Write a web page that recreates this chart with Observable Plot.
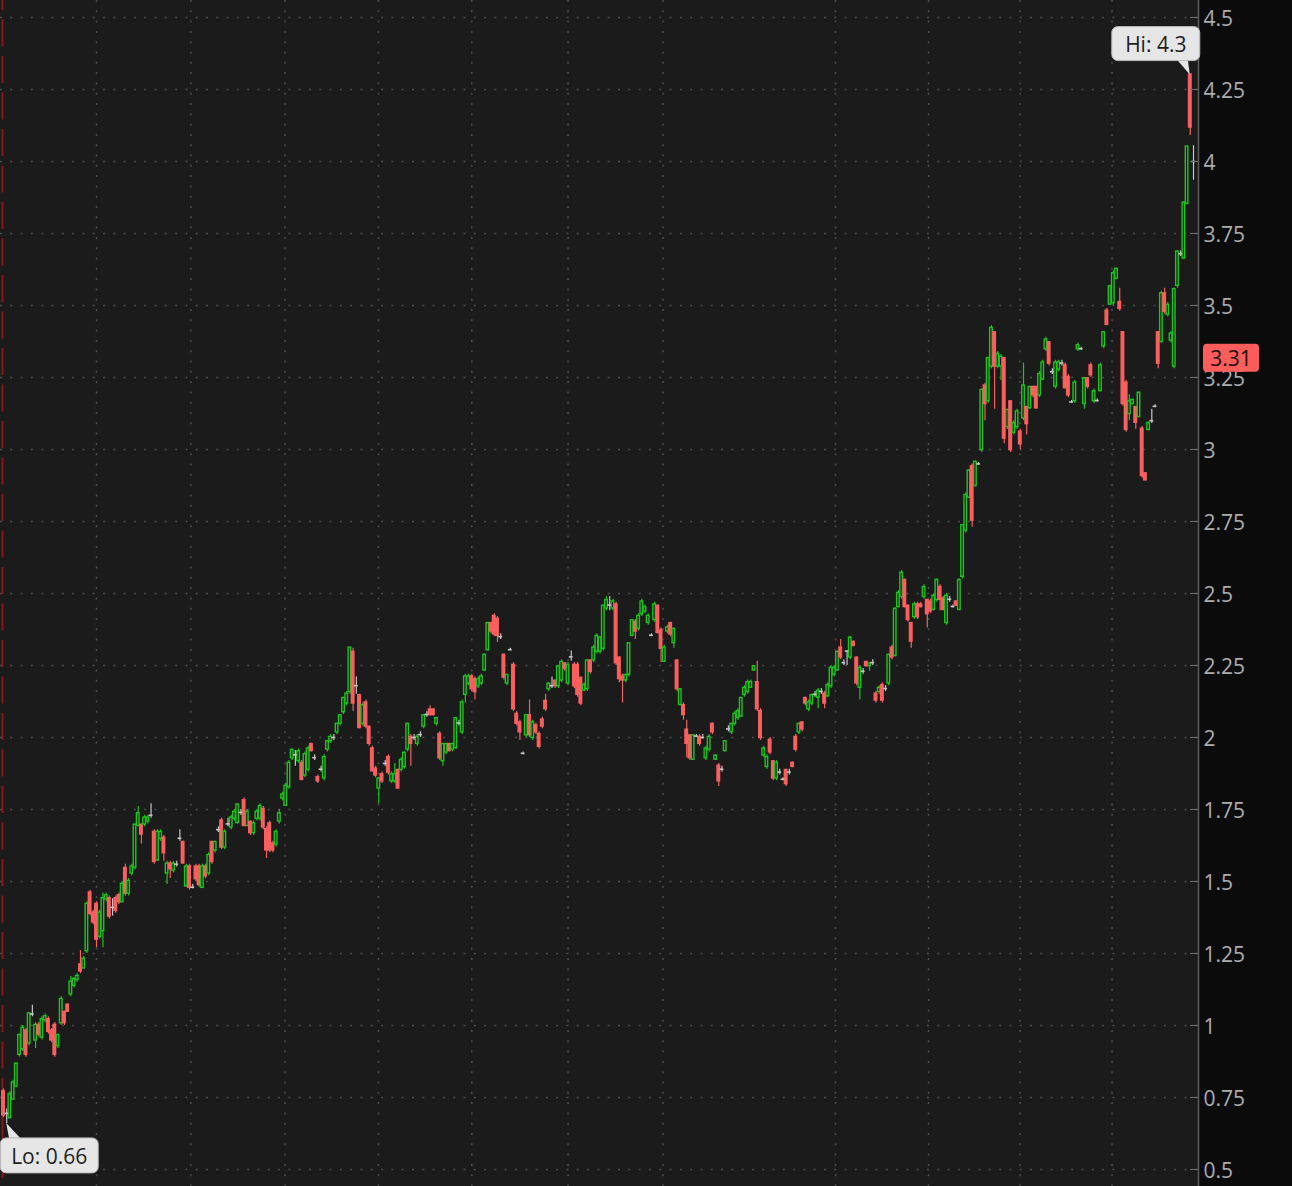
<!DOCTYPE html>
<html><head><meta charset="utf-8">
<script src="https://cdn.jsdelivr.net/npm/d3@7"></script>
<script src="https://cdn.jsdelivr.net/npm/@observablehq/plot@0.6"></script>
<style>
html,body{margin:0;padding:0;background:#0b0b0b;}
#chart svg{display:block;}
</style></head><body><div id="chart"></div>
<script>
// Each candle: [open, close, high, low]
const seg1 = [
[0.77,0.69,0.78,0.68],[0.695,0.695,0.71,0.66],[0.68,0.76,0.77,0.68],[0.745,0.80,0.81,0.74],
[0.79,0.865,0.87,0.79],[0.90,0.965,0.97,0.89],[0.92,0.99,1.00,0.91],[0.98,0.90,0.99,0.89],
[0.94,1.04,1.04,0.93],[1.04,1.04,1.07,1.03],[0.95,1.00,1.01,0.92],[1.00,0.97,1.01,0.96],
[0.96,1.02,1.03,0.95],[1.02,1.03,1.04,1.01],[1.02,0.98,1.03,0.97],[0.98,0.95,0.99,0.94],
[1.00,0.90,1.01,0.89],[0.93,0.965,0.97,0.92],[1.01,1.09,1.10,1.00],[1.045,1.01,1.05,1.00],
[1.07,1.05,1.075,1.045],[1.11,1.15,1.17,1.10],[1.14,1.16,1.165,1.13],[1.16,1.17,1.18,1.15],
[1.21,1.19,1.26,1.18],[1.20,1.23,1.24,1.20],[1.26,1.42,1.43,1.25],[1.46,1.39,1.47,1.38],
[1.39,1.36,1.40,1.35],[1.42,1.30,1.43,1.27],[1.31,1.39,1.40,1.30],[1.33,1.44,1.46,1.27],
[1.44,1.45,1.46,1.43],[1.44,1.38,1.45,1.37],[1.41,1.41,1.44,1.38]
];
const seg2 = [
[1.44,1.40,1.45,1.39],[1.45,1.43,1.46,1.42],[1.43,1.49,1.50,1.43],[1.545,1.46,1.56,1.45],
[1.46,1.50,1.51,1.45],[1.53,1.55,1.56,1.52],[1.55,1.695,1.70,1.54],[1.695,1.735,1.76,1.69],
[1.695,1.665,1.70,1.63],[1.70,1.72,1.73,1.69],[1.71,1.72,1.73,1.70],[1.73,1.73,1.77,1.72],
[1.67,1.57,1.68,1.56],[1.575,1.67,1.68,1.57],[1.65,1.67,1.68,1.64],[1.65,1.60,1.66,1.57],
[1.53,1.56,1.57,1.49],[1.56,1.545,1.57,1.51],[1.54,1.56,1.57,1.53],[1.56,1.56,1.57,1.55],
[1.65,1.65,1.68,1.64],[1.635,1.565,1.64,1.56],[1.485,1.55,1.56,1.48],[1.55,1.48,1.56,1.47]
];
const seg3 = [
[1.48,1.48,1.49,1.475],[1.55,1.51,1.56,1.50],[1.55,1.49,1.56,1.48],[1.48,1.55,1.56,1.48],
[1.55,1.52,1.56,1.51],[1.53,1.59,1.60,1.52],[1.635,1.57,1.64,1.56],[1.61,1.635,1.64,1.60],
[1.68,1.68,1.69,1.67],[1.71,1.62,1.72,1.61],[1.62,1.67,1.68,1.61],[1.70,1.70,1.72,1.69],
[1.69,1.72,1.73,1.68],[1.72,1.74,1.75,1.71],[1.705,1.765,1.77,1.70],[1.74,1.74,1.75,1.73],
[1.78,1.695,1.79,1.69],[1.695,1.74,1.75,1.69],[1.705,1.67,1.71,1.66],[1.67,1.70,1.71,1.66],
[1.72,1.74,1.75,1.71],[1.72,1.76,1.77,1.71],[1.75,1.69,1.76,1.68],[1.68,1.61,1.69,1.58],
[1.70,1.61,1.71,1.60],[1.63,1.61,1.64,1.60],[1.63,1.67,1.68,1.62],[1.71,1.735,1.75,1.70]
];
const seg4 = [
[1.79,1.80,1.81,1.78],[1.765,1.83,1.84,1.76],[1.83,1.91,1.92,1.82],[1.93,1.955,1.96,1.92],
[1.94,1.94,1.955,1.90],[1.92,1.95,1.96,1.91],[1.91,1.855,1.92,1.85],[1.87,1.94,1.95,1.86],
[1.89,1.96,1.97,1.88],[1.975,1.955,1.98,1.95],[1.93,1.93,1.94,1.92],[1.86,1.85,1.87,1.84],
[1.89,1.89,1.90,1.88],[1.86,1.93,1.94,1.85],[1.96,1.985,1.99,1.95],[1.99,2.00,2.01,1.98],
[2.00,2.00,2.01,1.99],[2.02,2.045,2.05,2.01],[2.05,2.075,2.08,2.04],[2.09,2.135,2.14,2.08],
[2.12,2.15,2.16,2.11],[2.16,2.31,2.31,2.15],[2.295,2.12,2.31,2.09],[2.18,2.18,2.21,2.15],
[2.145,2.035,2.15,2.03],[2.05,2.11,2.12,2.04],[2.12,2.04,2.13,2.03]
];
const seg5 = [
[2.035,1.98,2.04,1.97],[1.96,1.885,1.97,1.88],[1.89,1.87,1.90,1.86],[1.825,1.855,1.86,1.77],
[1.87,1.85,1.88,1.84],[1.91,1.91,1.92,1.90],[1.93,1.88,1.94,1.87],[1.85,1.87,1.88,1.84],
[1.85,1.87,1.91,1.84],[1.885,1.825,1.89,1.82],[1.89,1.92,1.93,1.88],[1.90,1.945,1.95,1.89],
[1.96,2.045,2.05,1.95],[2.00,1.98,2.01,1.90],[2.00,2.00,2.01,1.99],[1.98,2.00,2.01,1.97],
[2.01,2.01,2.02,2.00],[2.04,2.075,2.08,2.03],[2.08,2.08,2.09,2.07],[2.095,2.08,2.11,2.075],
[2.095,2.08,2.10,2.075],[2.05,2.065,2.07,2.04],[2.01,1.93,2.02,1.92],[1.92,1.975,1.98,1.90],
[1.95,1.975,1.98,1.94],[1.975,1.955,1.98,1.95],[1.96,1.975,1.98,1.95],[1.965,2.065,2.07,1.96],
[2.05,2.05,2.06,2.04]
];
const seg6 = [
[2.02,2.12,2.13,2.01],[2.15,2.21,2.22,2.12],[2.19,2.21,2.22,2.18],[2.21,2.17,2.22,2.16],
[2.20,2.16,2.21,2.13],[2.18,2.20,2.21,2.17],[2.19,2.21,2.22,2.18],[2.235,2.285,2.29,2.23],
[2.305,2.395,2.40,2.30],[2.395,2.37,2.40,2.36],[2.42,2.36,2.43,2.35],[2.41,2.355,2.42,2.33],
[2.35,2.35,2.36,2.34],[2.285,2.21,2.29,2.20],[2.19,2.215,2.22,2.18],[2.305,2.305,2.31,2.30],
[2.25,2.10,2.26,2.09],[2.08,2.05,2.09,2.04],[2.05,2.02,2.06,1.99],[1.945,1.945,1.95,1.94],
[2.01,2.075,2.08,2.00],[2.075,2.01,2.13,2.00],[2.00,2.05,2.06,1.99],[2.04,2.02,2.05,2.01],
[2.01,1.97,2.02,1.96],[2.06,2.04,2.07,2.03],[2.125,2.10,2.15,2.09],[2.17,2.185,2.19,2.16],
[2.18,2.18,2.21,2.17],[2.195,2.18,2.20,2.17],[2.18,2.245,2.25,2.17]
];
const seg7 = [
[2.20,2.26,2.27,2.19],[2.255,2.24,2.26,2.23],[2.19,2.25,2.26,2.18],[2.28,2.28,2.30,2.265],
[2.25,2.18,2.26,2.17],[2.25,2.15,2.26,2.14],[2.205,2.12,2.21,2.11],[2.165,2.18,2.19,2.16],
[2.17,2.265,2.27,2.16],[2.265,2.23,2.27,2.22],[2.27,2.31,2.32,2.26],[2.30,2.35,2.36,2.29],
[2.30,2.345,2.35,2.29],[2.31,2.455,2.46,2.30],[2.45,2.475,2.49,2.44],[2.46,2.46,2.49,2.44],
[2.45,2.47,2.48,2.44],[2.46,2.26,2.47,2.25],[2.275,2.205,2.28,2.19],[2.21,2.20,2.22,2.12],
[2.20,2.215,2.22,2.19],[2.22,2.325,2.33,2.21],[2.355,2.405,2.41,2.35],[2.40,2.37,2.41,2.34],
[2.38,2.42,2.43,2.37],[2.43,2.47,2.48,2.42],[2.44,2.45,2.46,2.43],[2.40,2.42,2.43,2.39],
[2.355,2.355,2.36,2.35],[2.41,2.46,2.47,2.40]
];
const seg8 = [
[2.455,2.365,2.46,2.36],[2.37,2.31,2.38,2.26],[2.265,2.31,2.32,2.26],[2.37,2.38,2.39,2.36],
[2.395,2.36,2.40,2.35],[2.33,2.375,2.38,2.31],[2.265,2.17,2.27,2.16],[2.115,2.165,2.17,2.11],
[2.11,2.08,2.12,2.06],[2.025,1.98,2.06,1.93],[2.005,1.93,2.01,1.92],[1.925,2.005,2.01,1.92],
[2.005,2.005,2.01,2.00],[2.00,1.98,2.01,1.97],[2.00,2.00,2.01,1.995],[1.93,1.96,1.97,1.92],
[1.96,2.00,2.01,1.95],[2.045,2.02,2.05,2.01],[1.925,1.935,1.94,1.92],[1.90,1.85,1.91,1.83],
[1.89,1.89,1.90,1.88],[1.955,1.985,1.99,1.95],[2.03,2.03,2.04,2.02],[2.02,2.045,2.05,2.01],
[2.05,2.08,2.09,2.04],[2.07,2.09,2.10,2.06],[2.075,2.135,2.14,2.07],[2.15,2.17,2.18,2.14]
];
const seg9 = [
[2.16,2.19,2.20,2.15],[2.175,2.19,2.20,2.17],[2.235,2.245,2.25,2.23],[2.19,2.10,2.265,2.09],
[2.09,2.00,2.10,1.99],[1.94,1.96,1.97,1.93],[1.90,1.93,1.94,1.89],[1.99,1.95,2.00,1.94],
[1.915,1.86,1.92,1.85],[1.86,1.91,1.92,1.85],[1.88,1.88,1.89,1.87],[1.855,1.855,1.86,1.85],
[1.885,1.84,1.89,1.83],[1.88,1.88,1.89,1.87],[1.91,1.90,1.915,1.895],[2.00,1.96,2.01,1.95],
[2.02,2.045,2.05,2.01],[2.05,2.03,2.055,2.02],[2.135,2.12,2.14,2.11],[2.10,2.12,2.13,2.09],
[2.12,2.145,2.15,2.11],[2.15,2.15,2.16,2.14],[2.14,2.16,2.17,2.10],[2.16,2.16,2.17,2.15],
[2.15,2.12,2.16,2.10],[2.145,2.18,2.19,2.14],[2.18,2.24,2.25,2.17]
];
const seg10 = [
[2.22,2.24,2.25,2.21],[2.235,2.295,2.30,2.23],[2.31,2.28,2.34,2.27],[2.26,2.26,2.27,2.25],
[2.30,2.30,2.30,2.25],[2.28,2.345,2.35,2.27],[2.33,2.32,2.335,2.315],[2.275,2.19,2.28,2.18],
[2.175,2.24,2.25,2.13],[2.23,2.23,2.24,2.22],[2.26,2.25,2.265,2.245],[2.25,2.255,2.26,2.23],
[2.26,2.26,2.27,2.25],[2.15,2.13,2.16,2.12],[2.16,2.17,2.18,2.15],[2.18,2.13,2.19,2.12],
[2.17,2.17,2.18,2.16],[2.19,2.285,2.29,2.18],[2.31,2.28,2.32,2.27],[2.285,2.445,2.45,2.28],
[2.455,2.50,2.51,2.45],[2.49,2.57,2.58,2.48],[2.545,2.455,2.55,2.45],[2.455,2.41,2.46,2.40],
[2.395,2.335,2.40,2.31],[2.42,2.46,2.47,2.41],[2.46,2.42,2.47,2.41],[2.46,2.455,2.47,2.45],
[2.49,2.52,2.53,2.48]
];
const seg11 = [
[2.475,2.43,2.48,2.38],[2.47,2.44,2.48,2.43],[2.445,2.49,2.50,2.44],[2.48,2.545,2.55,2.47],
[2.52,2.48,2.53,2.44],[2.48,2.445,2.49,2.44],[2.40,2.49,2.50,2.39],[2.48,2.48,2.49,2.47],
[2.455,2.455,2.46,2.45],[2.47,2.46,2.475,2.455],[2.445,2.545,2.55,2.44],[2.56,2.735,2.74,2.55],
[2.72,2.84,2.85,2.71],[2.835,2.925,2.93,2.83],[2.94,2.755,2.95,2.73],[2.875,2.955,2.96,2.87],
[2.95,2.95,2.955,2.945],[3.00,3.205,3.21,2.99],[3.22,3.16,3.23,3.10],[3.17,3.315,3.32,3.16],
[3.29,3.42,3.43,3.28],[3.405,3.29,3.41,3.14],[3.29,3.33,3.34,3.28],[3.29,3.32,3.33,3.24],
[3.315,3.04,3.32,3.02],[3.08,3.135,3.14,3.07],[3.165,3.00,3.17,2.99],[3.06,3.09,3.10,3.05],
[3.08,3.13,3.14,3.07]
];
const seg12 = [
[3.06,3.02,3.07,3.00],[3.11,3.22,3.30,3.10],[3.145,3.09,3.15,3.05],[3.145,3.215,3.22,3.14],
[3.215,3.19,3.22,3.18],[3.215,3.145,3.22,3.14],[3.19,3.26,3.27,3.18],[3.245,3.30,3.31,3.24],
[3.35,3.38,3.39,3.34],[3.37,3.30,3.375,3.29],[3.27,3.27,3.28,3.26],[3.22,3.30,3.31,3.21],
[3.28,3.30,3.31,3.27],[3.30,3.30,3.31,3.29],[3.29,3.215,3.30,3.21],[3.25,3.19,3.26,3.18],
[3.165,3.165,3.17,3.16],[3.17,3.23,3.24,3.16],[3.35,3.36,3.37,3.34],[3.35,3.35,3.355,3.345],
[3.16,3.245,3.25,3.14],[3.245,3.22,3.25,3.21],[3.29,3.26,3.30,3.25],[3.17,3.20,3.21,3.16],
[3.17,3.17,3.175,3.165],[3.205,3.29,3.30,3.20],[3.36,3.405,3.41,3.35],[3.48,3.435,3.49,3.43],
[3.505,3.565,3.57,3.50]
];
const seg13 = [
[3.51,3.61,3.62,3.50],[3.595,3.625,3.63,3.59],[3.51,3.49,3.56,3.48],[3.405,3.16,3.41,3.15],
[3.23,3.07,3.24,3.06],[3.125,3.165,3.19,3.10],[3.16,3.17,3.175,3.155],[3.145,3.095,3.15,3.07],
[3.115,3.195,3.20,3.11],[3.07,2.91,3.08,2.90],[2.915,2.895,2.92,2.89],[3.07,3.09,3.095,3.065],
[3.10,3.10,3.14,3.09],[3.15,3.15,3.155,3.145],[3.405,3.30,3.41,3.28],[3.375,3.54,3.55,3.37],
[3.54,3.48,3.56,3.47],[3.47,3.50,3.51,3.46],[3.38,3.40,3.41,3.37],[3.29,3.555,3.56,3.28],
[3.57,3.685,3.69,3.56],[3.68,3.68,3.69,3.67],[3.665,3.855,3.86,3.66],[3.855,4.05,4.05,3.85],
[4.30,4.12,4.30,4.09],[4.00,4.00,4.055,3.935]
];

const yTicks = [0.5,0.75,1,1.25,1.5,1.75,2,2.25,2.5,2.75,3,3.25,3.5,3.75,4,4.25,4.5];
const periodStarts = [29, 58.4, 87.8, 116.9, 146, 176, 205.6, 259.4, 288.4, 316.9, 345.6];
const markerIndex = [0];
const lastPrice = 3.31;

const W = 1292, H = 1186, axisX = 1198, mTop = 17, mBottom = 17;
const BG = "#1b1b1b", GREEN = "#1cc61c", RED = "#fa5f5f", GRAY = "#c4c4c4";

const candles = [seg1,seg2,seg3,seg4,seg5,seg6,seg7,seg8,seg9,seg10,seg11,seg12,seg13]
  .flat().map((d, i) => ({i, open: d[0], close: d[1], high: d[2], low: d[3]}));
candles.forEach(d => { d.dir = d.close > d.open ? "up" : d.close < d.open ? "down" : "flat"; });
const N = candles.length;
const step = (axisX - 5 - 3) / (N - 1);
const xDomain = [-3 / step, (axisX - 3) / step];
const colorOf = {up: GREEN, down: RED, flat: GRAY};

const plot = Plot.plot({
  width: W, height: H,
  marginLeft: 0, marginRight: W - axisX, marginTop: mTop, marginBottom: mBottom,
  x: {type: "linear", domain: xDomain, axis: null},
  y: {domain: [0.5, 4.5], axis: null},
  color: {type: "identity"},
  style: {
    background: `linear-gradient(to right, ${BG} ${axisX}px, #0b0b0b ${axisX}px)`,
    fontFamily: "'Open Sans', sans-serif", fontSize: "21px", color: "#adadad", overflow: "visible"
  },
  marks: [
    Plot.ruleY(yTicks, {stroke: "#4e4e4e", strokeWidth: 1.5, strokeDasharray: "2 8.3"}),
    Plot.ruleX(periodStarts, {stroke: "#4e4e4e", strokeWidth: 1.5, strokeDasharray: "2 8.3", insetTop: -mTop, insetBottom: -mBottom}),
    Plot.ruleX(markerIndex, {stroke: "#8c1515", strokeWidth: 2, strokeDasharray: "27 9.5", strokeDashoffset: 17, dx: -1, insetTop: -mTop, insetBottom: -mBottom}),
    Plot.ruleX(candles, {x: "i", y1: "low", y2: "high", stroke: d => colorOf[d.dir], strokeWidth: 1.2}),
    Plot.rect(candles.filter(d => d.dir !== "flat"), {
      x1: d => d.i - 0.4, x2: d => d.i + 0.4, y1: "open", y2: "close",
      fill: d => d.dir === "down" ? RED : BG, stroke: d => colorOf[d.dir], strokeWidth: 1.4,
      insetTop: -0.6, insetBottom: -0.6
    }),
    Plot.ruleY(candles.filter(d => d.dir === "flat"), {y: "open", x1: d => d.i - 0.6, x2: d => d.i + 0.6, stroke: GRAY, strokeWidth: 1.6}),
    Plot.ruleX([xDomain[1]], {stroke: "#5c5c5c", strokeWidth: 1.5, insetTop: -mTop, insetBottom: -mBottom}),
    Plot.tickY(yTicks, {stroke: "#6e6e6e", insetLeft: axisX - 8}),
    Plot.axisY(yTicks, {anchor: "right", tickSize: 0, tickPadding: 5, dy: 2, label: null, tickFormat: d => `${d}`, fill: "#adadad"})
  ]
});
document.getElementById("chart").appendChild(plot);

// Annotations positioned through the same scales
const xs = d3.scaleLinear(xDomain, [0, axisX]);
const ys = d3.scaleLinear([0.5, 4.5], [H - mBottom, mTop]);
const svg = d3.select(plot);
const font = "'Open Sans', sans-serif";

const hi = candles.reduce((a, b) => b.high > a.high ? b : a);
const lo = candles.reduce((a, b) => b.low < a.low ? b : a);

{
  const px = xs(hi.i), py = ys(hi.high);
  const g = svg.append("g");
  g.append("path").attr("d", `M${px-13},${py-15}L${px-2},${py-15}L${px},${py}Z`).attr("fill", "#e6e6e6");
  g.append("rect").attr("x", px - 78).attr("y", py - 48).attr("width", 88).attr("height", 34).attr("rx", 6)
    .attr("fill", "#e6e6e6").attr("stroke", "#b8b8b8").attr("stroke-width", 1);
  g.append("text").attr("x", px - 34).attr("y", py - 31).attr("text-anchor", "middle").attr("dominant-baseline", "central")
    .attr("font-family", font).attr("font-size", 21).attr("fill", "#1e1e1e").text(`Hi: ${hi.high}`);
}
{
  const px = xs(lo.i), py = ys(lo.low);
  const g = svg.append("g");
  g.append("path").attr("d", `M${px},${py}L${px+3},${py+16}L${px+15},${py+16}Z`).attr("fill", "#e6e6e6");
  g.append("rect").attr("x", px - 6).attr("y", py + 15).attr("width", 98).attr("height", 35).attr("rx", 6)
    .attr("fill", "#e6e6e6").attr("stroke", "#b8b8b8").attr("stroke-width", 1);
  g.append("text").attr("x", px + 43).attr("y", py + 33).attr("text-anchor", "middle").attr("dominant-baseline", "central")
    .attr("font-family", font).attr("font-size", 21).attr("fill", "#1e1e1e").text(`Lo: ${lo.low}`);
}
{
  const cy = ys(lastPrice) - 2;
  const g = svg.append("g");
  g.append("rect").attr("x", axisX + 5).attr("y", cy - 14).attr("width", 56).attr("height", 28).attr("rx", 4).attr("fill", "#ff5c5c");
  g.append("text").attr("x", axisX + 33).attr("y", cy).attr("text-anchor", "middle").attr("dominant-baseline", "central")
    .attr("font-family", font).attr("font-size", 21).attr("fill", "#1a0c0c").text(lastPrice.toFixed(2));
}
</script>
</body></html>
